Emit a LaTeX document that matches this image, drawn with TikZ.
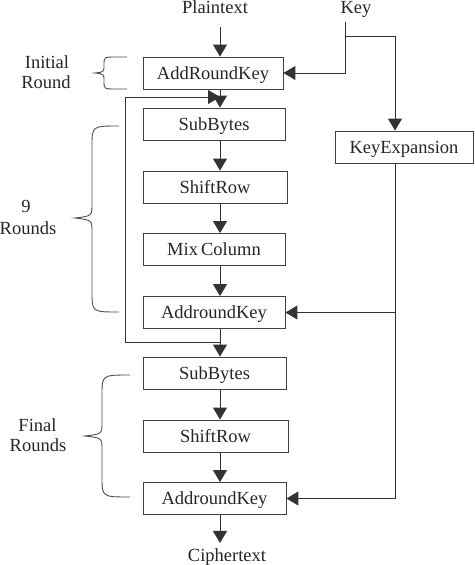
\documentclass[tikz,border=0pt]{standalone}
\usepackage{fontspec}
\setmainfont{Liberation Serif}
\usetikzlibrary{arrows.meta}
\begin{document}
\begin{tikzpicture}[x=1pt,y=-1pt,
  lbl/.style={font=\fontsize{18.5}{20}\selectfont,text=black!85,inner sep=0pt,anchor=base},
  stepbox/.style={draw=black!75,line width=0.9pt,inner sep=0pt,minimum height=32pt,
    text height=12pt,text depth=0pt,font=\fontsize{18.5}{20}\selectfont,text=black!85},
  arr/.style={-{Triangle[length=12pt,width=14pt]},draw=black!80,line width=1pt},
  brc/.style={draw=black!70,line width=0.9pt}]
\useasboundingbox (0,0) rectangle (474,565);
\coordinate (ax) at (220,0);
\coordinate (kx) at (345,0);
\coordinate (kx2) at (395,0);
% texts
\node[lbl] (pt) at (215,13) {Plaintext};
\node[lbl] (key) at (356,13) {Key};
\node[lbl] (ct) at (227,561) {Ciphertext};
% boxes
\node[stepbox,minimum width=140pt] (ark0) at (213,73) {AddRoundKey};
\node[stepbox,minimum width=142pt] (sb1) at (214,124) {SubBytes};
\node[stepbox,minimum width=138pt] (kexp) at (404,147) {KeyExpansion};
\node[stepbox,minimum width=144pt] (sr1) at (215,187) {ShiftRow};
\node[stepbox,minimum width=142pt] (mc) at (214,249.5) {Mix\,Column};
\node[stepbox,minimum width=142pt] (ark1) at (214,312.5) {AddroundKey};
\node[stepbox,minimum width=143pt] (sb2) at (214.5,373) {SubBytes};
\node[stepbox,minimum width=145pt] (sr2) at (215.5,436) {ShiftRow};
\node[stepbox,minimum width=143pt] (ark2) at (214.5,498.5) {AddroundKey};
% brace labels
\node[lbl] (l0a) at (47,68) {Initial};
\node[lbl] (l0b) at (46,88) {Round};
\node[lbl] (l1a) at (26,212.5) {9};
\node[lbl] (l1b) at (28,234) {Rounds};
\node[lbl] (l2a) at (37.5,431.5) {Final};
\node[lbl] (l2b) at (38,451.5) {Rounds};
% braces
\draw[brc] (127,57) -- (116,57) .. controls (104,57) .. (104,65) .. controls (104,72) .. (95,73)
  .. controls (104,74) .. (104,81) .. controls (104,89) .. (116,89) -- (127,89);
\draw[brc] (119,126) .. controls (92,126) .. (92,146) -- (92,204) .. controls (92,216) .. (75,218)
  .. controls (92,220) .. (92,232) -- (92,292) .. controls (92,312) .. (119,312);
\draw[brc] (130,375) .. controls (102,375) .. (102,395) -- (102,422) .. controls (102,434) .. (85,436)
  .. controls (102,438) .. (102,450) -- (102,477) .. controls (102,497) .. (130,497);
% main column
\draw[arr,shorten <=14pt] (pt.south -| ax) -- (ark0.north -| ax);
\draw[arr] (ark0.south -| ax) -- (sb1.north -| ax);
\draw[arr] (sb1.south -| ax) -- (sr1.north -| ax);
\draw[arr] (sr1.south -| ax) -- (mc.north -| ax);
\draw[arr] (mc.south -| ax) -- (ark1.north -| ax);
\draw[arr] (ark1.south -| ax) -- (sb2.north -| ax);
\draw[arr] (sb2.south -| ax) -- (sr2.north -| ax);
\draw[arr] (sr2.south -| ax) -- (ark2.north -| ax);
\draw[arr,shorten >=5pt] (ark2.south -| ax) -- (ct.north -| ax);
% loop
\coordinate (lp) at (220,342);
\coordinate (la) at (220,97);
\draw[arr] (lp) -- (125.5,342) |- (la);
% key
\coordinate (kb) at (345,36);
\draw[arr,shorten <=5pt] (key.south -| kx) |- (ark0.east);
\draw[arr] (kb) -| (kexp.north -| kx2);
\draw[arr] (kexp.south -| kx2) |- (ark2.east);
\draw[arr] (ark1.east -| kx2) -- (ark1.east);
\end{tikzpicture}
\end{document}
